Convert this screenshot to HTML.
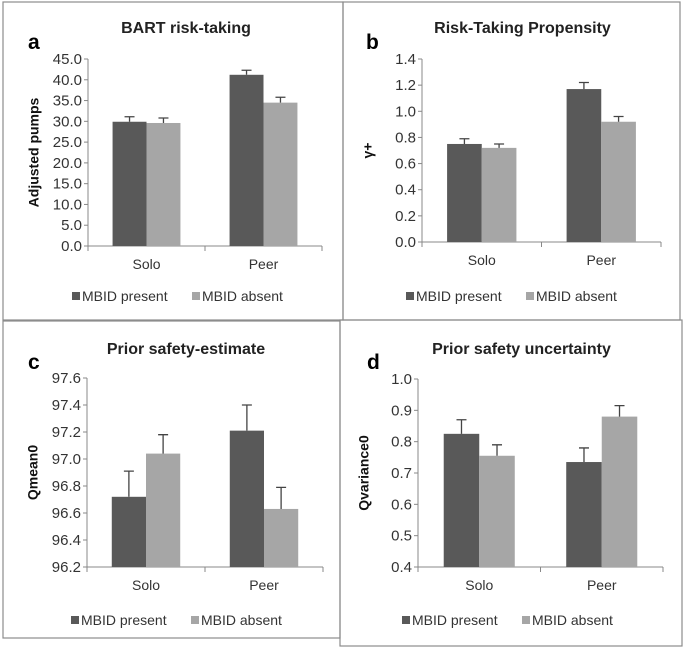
<!DOCTYPE html>
<html><head><meta charset="utf-8"><style>
html,body{margin:0;padding:0;background:#fff;}
svg{display:block;font-family:"Liberation Sans",sans-serif;}
</style></head><body>
<svg id="fig" width="685" height="647" viewBox="0 0 685 647"></svg>
<script>
const categories = ["Solo", "Peer"];
const seriesNames = ["MBID present", "MBID absent"];
const aPresent = [29.9, 41.2], aPresentErr = [31.1, 42.3];
const aAbsent = [29.6, 34.5], aAbsentErr = [30.8, 35.8];
const aTicks = ["0.0","5.0","10.0","15.0","20.0","25.0","30.0","35.0","40.0","45.0"];
const bPresent = [0.75, 1.17], bPresentErr = [0.79, 1.22];
const bAbsent = [0.72, 0.92], bAbsentErr = [0.75, 0.96];
const bTicks = ["0.0","0.2","0.4","0.6","0.8","1.0","1.2","1.4"];
const cPresent = [96.72, 97.21], cPresentErr = [96.91, 97.40];
const cAbsent = [97.04, 96.63], cAbsentErr = [97.18, 96.79];
const cTicks = ["96.2","96.4","96.6","96.8","97.0","97.2","97.4","97.6"];
const dPresent = [0.825, 0.735], dPresentErr = [0.87, 0.78];
const dAbsent = [0.755, 0.88], dAbsentErr = [0.79, 0.915];
const dTicks = ["0.4","0.5","0.6","0.7","0.8","0.9","1.0"];

const NS = "http://www.w3.org/2000/svg";
const svg = document.getElementById("fig");
function mk(tag, attrs, parent, text){
  const e = document.createElementNS(NS, tag);
  for (const k in attrs) e.setAttribute(k, attrs[k]);
  if (text !== undefined) e.textContent = text;
  (parent || svg).appendChild(e);
  return e;
}
const panels = [
  {id:"a", title:"BART risk-taking", ytitle:"Adjusted pumps", box:[3,2,343,320], x0:88, x1:322, y0:246, y1:59,
   ticks:aTicks, pres:aPresent, presE:aPresentErr, abs:aAbsent, absE:aAbsentErr, titleY:33, legY:301, letterX:28, letterY:49, lp:"MBID  present"},
  {id:"b", title:"Risk-Taking Propensity", ytitle:"γ+", box:[343,2,680,320], x0:422, x1:661, y0:242, y1:59,
   ticks:bTicks, pres:bPresent, presE:bPresentErr, abs:bAbsent, absE:bAbsentErr, titleY:33, legY:301, letterX:366, letterY:49, lp:"MBID present"},
  {id:"c", title:"Prior safety-estimate", ytitle:"Qmean0", box:[3,321,340,638], x0:87, x1:323, y0:567, y1:378,
   ticks:cTicks, pres:cPresent, presE:cPresentErr, abs:cAbsent, absE:cAbsentErr, titleY:354, legY:625, letterX:28, letterY:369, lp:"MBID present"},
  {id:"d", title:"Prior safety uncertainty", ytitle:"Qvariance0", box:[340,320,682,646], x0:418, x1:663, y0:567, y1:379,
   ticks:dTicks, pres:dPresent, presE:dPresentErr, abs:dAbsent, absE:dAbsentErr, titleY:354, legY:625, letterX:367, letterY:369, lp:"MBID present"}
];
panels.forEach(p => {
  const g = mk("g", {});
  
  
  const [bx0,by0,bx1,by1] = p.box;
  const border = mk("rect", {x:bx0, y:by0, width:bx1-bx0, height:by1-by0, fill:"none", stroke:"#8c8c8c", "stroke-width":1.2}, g);
  
  
  const cx = (p.x0 + p.x1)/2 - 19;
  const t = mk("text", {x:cx, y:p.titleY, "text-anchor":"middle", "font-size":16, "font-weight":"bold", fill:"#222"}, g, p.title);
  
  
  const l = mk("text", {x:p.letterX, y:p.letterY, "font-size":21, "font-weight":"bold", fill:"#000"}, g, p.id);
  
  
  const vmin = parseFloat(p.ticks[0]), vmax = parseFloat(p.ticks[p.ticks.length-1]);
  const ys = v => p.y0 + (v - vmin)/(vmax - vmin)*(p.y1 - p.y0);
  const catW = (p.x1 - p.x0)/categories.length;
  const bw = catW*0.29;
  const ya = mk("line", {x1:p.x0, y1:p.y1, x2:p.x0, y2:p.y0, stroke:"#888", "stroke-width":1}, g);
  
  
  const xa = mk("line", {x1:p.x0, y1:p.y0, x2:p.x1, y2:p.y0, stroke:"#888", "stroke-width":1}, g);
  
  
  p.ticks.forEach(tk => {
    const y = ys(parseFloat(tk));
    mk("line", {x1:p.x0-4, y1:y, x2:p.x0, y2:y, stroke:"#888"}, g);
    const tl = mk("text", {x:p.x0-6, y:y+5, "text-anchor":"end", "font-size":15, fill:"#333"}, g, tk);
    
    
  });
  for (let i=0;i<=categories.length;i++){
    const x = p.x0 + i*catW;
    mk("line", {x1:x, y1:p.y0, x2:x, y2:p.y0+5, stroke:"#888"}, g);
  }
  categories.forEach((c,i) => {
    const ccx = p.x0 + (i+0.5)*catW;
    const xl = mk("text", {x:ccx, y:p.y0+23, "text-anchor":"middle", "font-size":14, fill:"#333"}, g, c);
    
    
    [[p.pres, p.presE, "#595959", "present"], [p.abs, p.absE, "#a6a6a6", "absent"]].forEach((s, k) => {
      const v = s[0][i], e = s[1][i];
      const bx = ccx - bw + k*bw;
      const r = mk("rect", {x:bx, y:ys(v), width:bw, height:p.y0 - ys(v), fill:s[2]}, g);
      
      
      const mx = bx + bw/2;
      const eb = mk("path", {d:`M${mx},${ys(v)}V${ys(e)}M${mx-5},${ys(e)}H${mx+5}`, stroke:"#444", "stroke-width":1.3, fill:"none"}, g);
      
      
    });
  });
  const ymid = (p.y0 + p.y1)/2;
  const yt = mk("text", {x:p.x0-53, y:ymid, "text-anchor":"middle", "font-size":14, "font-weight":"bold", fill:"#111",
    transform:`rotate(-90 ${p.x0-53} ${ymid})`, "dominant-baseline":"middle"}, g, p.ytitle);
  
  
  const lx = p.x0 - 16;
  [[p.lp, "#595959", 0], [seriesNames[1], "#a6a6a6", 120]].forEach(([name, col, off], k) => {
    const le = mk("g", {}, g);
    
    
    mk("rect", {x:lx+off, y:p.legY-9, width:8, height:8, fill:col}, le);
    mk("text", {x:lx+off+10, y:p.legY, "font-size":14, fill:"#333"}, le, name);
  });
});
</script>
</body></html>
